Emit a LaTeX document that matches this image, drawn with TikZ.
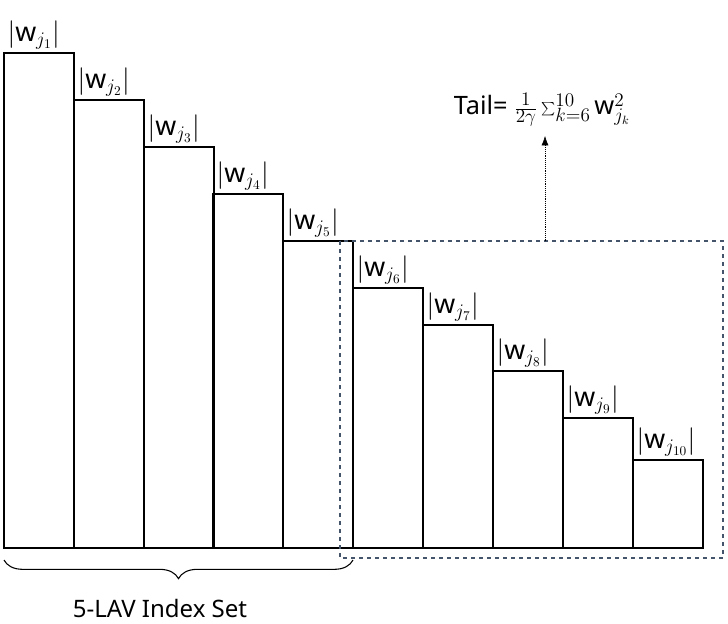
\documentclass[tikz,border=0pt]{standalone}
\usepackage{fontspec}
\setmainfont{Noto Sans}
\usetikzlibrary{decorations.pathreplacing,arrows.meta}
\begin{document}
\begin{tikzpicture}[x=0.75pt,y=-0.75pt,
  bar/.style={draw=black,line width=1.1pt},
  lab/.style={anchor=south west,inner sep=1pt,font=\fontsize{20}{22}\selectfont}]
\useasboundingbox (0,0) rectangle (728,624);
\foreach \i/\l/\t in {1/4/53,2/74/100,3/144/147,4/213/194,5/283/241,6/353/288,7/423/325,8/493/371,9/563/418,10/633/460}{
  \pgfmathtruncatemacro\r{\l+70}
  \draw[bar] (\l,548) rectangle (\r,\t);
  \node[lab] (l\i) at (\l+2,\t-2) {$\left|\mathrm{w}_{j_{\i}}\right|$};
}
\draw[dashed,draw={rgb,255:red,68;green,84;blue,106},line width=1pt] (340,241) rectangle (723,558);
\coordinate (bt) at (545,241);
\node[font=\fontsize{19}{22}\selectfont] (tail) at (542,110) {Tail= $\frac{1}{2\gamma}\textstyle\sum_{k=6}^{10}\mathrm{w}_{j_k}^2$};
\draw[densely dotted,-{Latex[length=7pt]}] (bt) -- (545,136);
\draw[decorate,decoration={brace,mirror,amplitude=14pt},line width=0.8pt] (4,560) -- (353,560);
\node[font=\fontsize{18}{22}\selectfont] (set) at (160,608) {5-LAV Index Set};
\end{tikzpicture}
\end{document}
